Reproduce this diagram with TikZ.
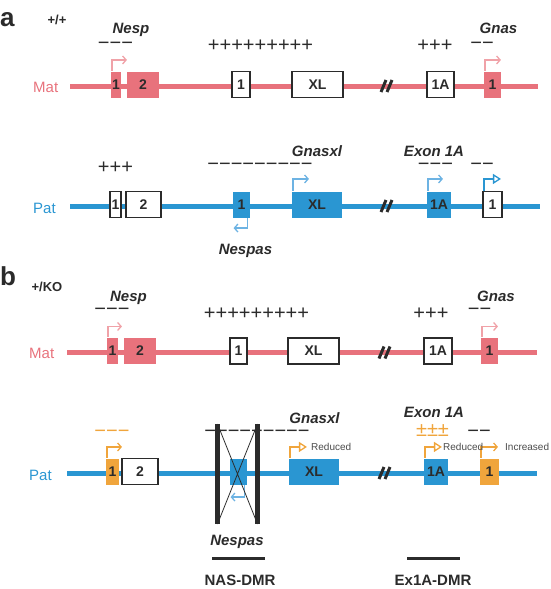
\documentclass[tikz,border=0pt]{standalone}
\usepackage{fontspec}
\setmainfont{Liberation Sans}
\usetikzlibrary{arrows.meta}

\definecolor{ink}{HTML}{2B2B2B}
\definecolor{matpink}{HTML}{E8727C}
\definecolor{matlight}{HTML}{F0A2A8}
\definecolor{patblue}{HTML}{2A96D2}
\definecolor{patlight}{HTML}{6DB3E3}
\definecolor{koorange}{HTML}{F0A53C}

\tikzset{
  exon/.style={draw=ink, line width=1.1pt, fill=white, inner sep=0pt, minimum height=26pt,
    text=ink, font=\fontsize{14}{14}\selectfont\bfseries},
  exfill/.style={exon, draw=none, fill=#1},
  strand/.style={line width=5pt, #1},
  strandlbl/.style={anchor=base west, inner sep=0pt, font=\fontsize{15}{15}\selectfont},
  gene/.style={anchor=base, inner sep=0pt, text=ink, font=\fontsize{15}{15}\selectfont\bfseries\itshape},
  dmr/.style={anchor=base, inner sep=0pt, text=ink, font=\fontsize{15}{15}\selectfont\bfseries},
  signs/.style={anchor=base, inner sep=0pt, text=ink, font=\fontsize{20}{20}\selectfont},
  panel/.style={anchor=base west, inner sep=0pt, text=ink, font=\fontsize{26}{26}\selectfont\bfseries},
  geno/.style={anchor=base, inner sep=0pt, text=ink, font=\fontsize{13}{13}\selectfont\bfseries},
  note/.style={anchor=base west, inner sep=0pt, text=ink!85, font=\fontsize{10}{10}\selectfont},
  prom/.style={line width=1.3pt, -{Straight Barb[length=3.5pt,width=8pt]}},
  promopen/.style={line width=1.3pt, -{Triangle[open,length=8pt,width=10pt,line width=1.3pt]}},
  brk/.style={line width=3pt, ink},
  kobar/.style={line width=5pt, ink},
  dmrbar/.style={line width=3pt, ink}
}

\begin{document}
\begin{tikzpicture}[x=1pt,y=-1pt]
\useasboundingbox (0,0) rectangle (550,589);

% panel a: +/+
\node[panel] (lblA) at (0,27) {a};
\node[geno] (genoA) at (57,24) {+/+};

% maternal allele
\coordinate (matA-l) at (70,86);
\coordinate (matA-r) at (538,86);
\coordinate (matA-brk) at (387,86);
\draw[strand=matpink] (matA-l) -- (matA-r);
\node[strandlbl, text=matpink] (matA) at (33,92) {Mat};
\node[exfill=matpink, minimum width=10pt] (matA-nesp1) at (116,84.5) {1};
\node[exfill=matpink, minimum width=32pt] (matA-nesp2) at (143,84.5) {2};
\node[exon, minimum width=18pt] (matA-nas1) at (241,84.5) {1};
\node[exon, minimum width=51pt] (matA-xl) at (317.5,84.5) {XL};
\node[exon, minimum width=27pt] (matA-ex1a) at (440.5,84.5) {1A};
\node[exfill=matpink, minimum width=17pt] (matA-gnas1) at (492.5,84.5) {1};
\draw[brk] (matA-brk) ++(-6,6) -- ++(5,-12) (matA-brk) ++(0,6) -- ++(5,-12);
\draw[prom, matlight] ([xshift=1.5pt]matA-nesp1.north west) |- ++(15,-11);
\draw[prom, matlight] ([xshift=1.5pt]matA-gnas1.north west) |- ++(16,-11);
\node[gene] (matA-nesp) at (131,33) {Nesp};
\node[gene] (matA-gnas) at (498.5,33) {Gnas};
\node[signs] (matA-s1) at (115.5,49) {−−−};
\node[signs] (matA-s2) at (260.5,51) {+++++++++};
\node[signs] (matA-s3) at (435,51) {+++};
\node[signs] (matA-s4) at (482,49) {−−};

% paternal allele
\coordinate (patA-l) at (70,206);
\coordinate (patA-r) at (540,206);
\coordinate (patA-brk) at (387,206);
\draw[strand=patblue] (patA-l) -- (patA-r);
\node[strandlbl, text=patblue] (patA) at (33,213) {Pat};
\node[exon, minimum width=11pt] (patA-nesp1) at (115.5,204.5) {1};
\node[exon, minimum width=35pt] (patA-nesp2) at (143.5,204.5) {2};
\node[exfill=patblue, minimum width=17pt] (patA-nas1) at (241.5,204.5) {1};
\node[exfill=patblue, minimum width=50pt] (patA-xl) at (317,204.5) {XL};
\node[exfill=patblue, minimum width=24pt] (patA-ex1a) at (439,204.5) {1A};
\node[exon, minimum width=19pt] (patA-gnas1) at (492.5,204.5) {1};
\draw[brk] (patA-brk) ++(-6,6) -- ++(5,-12) (patA-brk) ++(0,6) -- ++(5,-12);
\draw[prom, patlight] ([xshift=1.5pt]patA-xl.north west) |- ++(16,-12);
\draw[prom, patlight] ([xshift=1.5pt]patA-ex1a.north west) |- ++(15,-12);
\draw[promopen, patblue] ([xshift=1.5pt]patA-gnas1.north west) |- ++(17,-12);
\draw[prom, patlight] ([xshift=-3pt]patA-nas1.south east) |- ++(-14,10);
\node[gene] (patA-gnasxl) at (317,156) {Gnasxl};
\node[gene] (patA-exon1a) at (434,156) {Exon 1A};
\node[gene] (patA-nespas) at (245.5,254) {Nespas};
\node[signs] (patA-s1) at (115.5,173) {+++};
\node[signs] (patA-s2) at (260,170) {−−−−−−−−−};
\node[signs] (patA-s3) at (435.5,170) {−−−};
\node[signs] (patA-s4) at (482,170) {−−};

% panel b: +/KO
\node[panel] (lblB) at (0,285) {b};
\node[geno] (genoB) at (47,291) {+/KO};

% maternal allele
\coordinate (matB-l) at (67,352.5);
\coordinate (matB-r) at (537,352.5);
\coordinate (matB-brk) at (385,352.5);
\draw[strand=matpink] (matB-l) -- (matB-r);
\node[strandlbl, text=matpink] (matB) at (29,358) {Mat};
\node[exfill=matpink, minimum width=11pt] (matB-nesp1) at (112.5,351) {1};
\node[exfill=matpink, minimum width=32pt] (matB-nesp2) at (140,351) {2};
\node[exon, minimum width=17pt] (matB-nas1) at (238.5,351) {1};
\node[exon, minimum width=51pt] (matB-xl) at (313.5,351) {XL};
\node[exon, minimum width=28pt] (matB-ex1a) at (438,351) {1A};
\node[exfill=matpink, minimum width=17pt] (matB-gnas1) at (489.5,351) {1};
\draw[brk] (matB-brk) ++(-6,6) -- ++(5,-12) (matB-brk) ++(0,6) -- ++(5,-12);
\draw[prom, matlight] ([xshift=1.5pt]matB-nesp1.north west) |- ++(14,-11);
\draw[prom, matlight] ([xshift=1.5pt]matB-gnas1.north west) |- ++(16,-11);
\node[gene] (matB-nesp) at (128.5,301) {Nesp};
\node[gene] (matB-gnas) at (496,301) {Gnas};
\node[signs] (matB-s1) at (112,315) {−−−};
\node[signs] (matB-s2) at (256.5,319) {+++++++++};
\node[signs] (matB-s3) at (431,319) {+++};
\node[signs] (matB-s4) at (479.5,315) {−−};

% paternal allele, Nespas deleted
\coordinate (patB-l) at (67,473);
\coordinate (patB-r) at (537,473);
\coordinate (patB-brk) at (385,473);
\draw[strand=patblue] (patB-l) -- (patB-r);
\node[strandlbl, text=patblue] (patB) at (29,480) {Pat};
\node[exfill=koorange, minimum width=13pt] (patB-nesp1) at (112.5,471.5) {1};
\node[exon, minimum width=36pt] (patB-nesp2) at (140,471.5) {2};
\node[exfill=patblue, minimum width=17pt] (patB-nas1) at (238.5,471.5) {};
\node[exfill=patblue, minimum width=50pt] (patB-xl) at (314,471.5) {XL};
\node[exfill=patblue, minimum width=24pt] (patB-ex1a) at (436,471.5) {1A};
\node[exfill=koorange, minimum width=19pt] (patB-gnas1) at (489.5,471.5) {1};
\draw[brk] (patB-brk) ++(-6,6) -- ++(5,-12) (patB-brk) ++(0,6) -- ++(5,-12);
\draw[prom, koorange] ([xshift=1.5pt]patB-nesp1.north west) |- ++(15,-11);
\draw[promopen, koorange] ([xshift=1.5pt]patB-xl.north west) |- ++(17,-11);
\draw[promopen, koorange] ([xshift=1.5pt]patB-ex1a.north west) |- ++(17,-11);
\draw[prom, koorange] ([xshift=1.5pt]patB-gnas1.north west) |- ++(17,-11);
\draw[prom, patlight] ([xshift=-3pt]patB-nas1.south east) |- ++(-14,12);
\node[note] (patB-red1) at (311,450) {Reduced};
\node[note] (patB-red2) at (443,450) {Reduced};
\node[note] (patB-inc) at (505,450) {Increased};
\node[gene] (patB-gnasxl) at (314.5,423) {Gnasxl};
\node[gene] (patB-exon1a) at (434,417) {Exon 1A};
\node[signs, text=koorange] (patB-s1) at (112,437) {−−−};
\node[signs] (patB-s2) at (257,437) {−−−−−−−−−};
\node[signs, text=koorange] (patB-s3) at (432.5,436.5) {±±±};
\node[signs] (patB-s4) at (479,437) {−−};

% knockout of the NAS-DMR
\coordinate (ko-tl) at (217.5,424);
\coordinate (ko-bl) at (217.5,524);
\coordinate (ko-tr) at (257.5,424);
\coordinate (ko-br) at (257.5,524);
\draw[kobar] (ko-tl) -- (ko-bl);
\draw[kobar] (ko-tr) -- (ko-br);
\draw[ink, line width=0.8pt] (ko-tl) -- (ko-br) (ko-tr) -- (ko-bl);
\node[gene] (patB-nespas) at (237,545) {Nespas};

% DMRs
\coordinate (nas-l) at (212,558);
\coordinate (nas-r) at (265,558);
\coordinate (ex1a-l) at (407,558);
\coordinate (ex1a-r) at (460,558);
\draw[dmrbar] (nas-l) -- (nas-r);
\draw[dmrbar] (ex1a-l) -- (ex1a-r);
\node[dmr] (nasdmr) at (240,585) {NAS-DMR};
\node[dmr] (ex1admr) at (433,585) {Ex1A-DMR};
\end{tikzpicture}
\end{document}
